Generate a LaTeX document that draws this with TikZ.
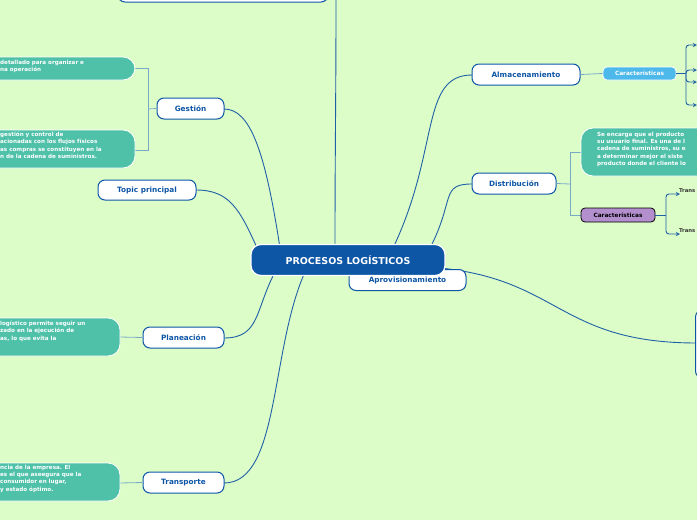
\documentclass[tikz,border=0pt]{standalone}
\usepackage{fontspec}
\setmainfont{DejaVu Sans}
\definecolor{lb}{RGB}{32,96,168}
\definecolor{dk}{RGB}{13,86,166}
\definecolor{bg}{RGB}{220,253,199}
\definecolor{thinc}{RGB}{120,170,200}
\definecolor{teal}{RGB}{79,193,169}
\definecolor{skyc}{RGB}{77,184,234}
\definecolor{purp}{RGB}{179,143,205}
\begin{document}
\begin{tikzpicture}[x=1pt,y=-1pt,
  conn/.style={draw=lb, line width=0.9pt},
  thin/.style={draw=thinc, line width=0.8pt},
  topic/.style={draw=dk, line width=1pt, fill=white, rounded corners=7pt, text=dk, font=\fontsize{7.3}{8}\selectfont\bfseries, inner sep=0pt},
  note/.style={fill=teal, draw=white, line width=0.8pt, rounded corners=12pt},
  ntext/.style={text=white, font=\fontsize{5.6}{7.2}\selectfont\bfseries, align=left, inner sep=0pt, anchor=north west},
  arr/.style={conn,->,>=stealth}]
\useasboundingbox (0,0) rectangle (697,520);
\clip (0,0) rectangle (697,520);
\fill[bg] (0,0) rectangle (697,520);
% top
\node[topic, minimum width=210pt, minimum height=22pt] (top) at (223,-9) {};
\draw[conn] (335,248) to[out=90,in=-90] (336,0);
% connectors from center
\draw[conn] (280,248) .. controls (265,150) and (250,109) .. (224,109);
\draw[conn] (258,250) .. controls (240,210) and (230,190) .. (196,190);
\draw[conn] (275,272) .. controls (255,310) and (260,338) .. (224,338);
\draw[conn] (305,272) .. controls (270,350) and (280,483) .. (224,483);
\draw[conn] (393,248) .. controls (440,150) and (420,75) .. (472,75);
\draw[conn] (430,248) .. controls (455,200) and (440,184) .. (472,184);
\draw[conn] (440,268) .. controls (560,280) and (560,343) .. (697,343);
% right bottom box
\node[topic, minimum width=40pt, minimum height=68pt, anchor=west] (rb) at (695,344) {};
% branches
\node[topic, minimum width=117pt, minimum height=21pt] (apro) at (407.5,280) {\raisebox{-1.5pt}{Aprovisionamiento}};
\node[draw=white, line width=1.2pt, fill=dk, rounded corners=10pt, minimum width=194pt, minimum height=31pt, text=white, font=\fontsize{9.5}{10}\selectfont\bfseries] (center) at (348,260) {PROCESOS LOGÍSTICOS};
\node[topic, minimum width=67pt, minimum height=21pt] (gest) at (190.5,108.5) {Gestión};
\node[topic, minimum width=98pt, minimum height=20pt] (tp) at (147,190) {Topic principal};
\node[topic, minimum width=81pt, minimum height=21pt] (plan) at (183.5,337.5) {Planeación};
\node[topic, minimum width=81pt, minimum height=21pt] (trans) at (183.5,482.5) {Transporte};
\node[topic, minimum width=108pt, minimum height=21pt] (alm) at (526,74.5) {Almacenamiento};
\node[topic, minimum width=84pt, minimum height=21pt] (dist) at (514,183.5) {Distribución};
% Gestión children
\draw[thin] (gest.west) -- (148,109);
\draw[thin] (135,68) -| (148,150) -- (135,150);
\draw[note] (-20,57) rectangle (135,80);
\node[ntext] at (0,60) {detallado para organizar e\\na operación};
\draw[note] (-20,130) rectangle (135,168);
\node[ntext] at (0,132) {gestión y control de\\acionadas con los flujos físicos\\as compras se constituyen en la\\n de la cadena de suministros.};
% Planeación child
\draw[thin] (120,337) -- (plan.west);
\draw[note] (-20,318) rectangle (120,356);
\node[ntext] at (0,321) {logístico permite seguir un\\zado en la ejecución de\\as, lo que evita la};
% Transporte child
\draw[thin] (120,483) -- (trans.west);
\draw[note] (-20,463) rectangle (120,501);
\node[ntext] at (0,465) {ncia de la empresa. El\\ es el que aseegura que la\\ consumidor en lugar,\\y estado óptimo.};
% Almacenamiento children
\node[fill=skyc, draw=white, line width=0.8pt, rounded corners=4pt, minimum width=73pt, minimum height=13pt, inner sep=0pt, text=white, font=\fontsize{5.8}{6}\selectfont\bfseries] (car1) at (639.5,73.5) {Características};
\draw[thin] (alm.east) -- (car1.west);
\draw[conn] (car1.east) -- (686,73.5);
\foreach \y in {45,70,82,105} \draw[arr, rounded corners=3pt] (686,73.5) |- (697,\y);
% Distribución children
\draw[thin] (dist.east) -- (570,184);
\draw[thin] (581,152) -| (570,215) -- (581,215);
\draw[note] (581,128) rectangle (720,176);
\node[ntext] at (597,132) {Se encarga que el producto\\su usuario final. Es una de l\\cadena de suministros, su e\\a determinar mejor el siste\\producto donde el cliente lo};
\node[fill=purp, draw=black, line width=0.8pt, rounded corners=4pt, minimum width=74pt, minimum height=14pt, inner sep=0pt, font=\fontsize{5.8}{6}\selectfont\bfseries] (car2) at (618,215) {Características};
\draw[conn] (car2.east) -- (666,215);
\draw[arr, rounded corners=3pt] (666,215) |- (680,194);
\draw[arr, rounded corners=3pt] (666,215) |- (680,234);
\node[anchor=south west, inner sep=1pt, font=\fontsize{5.3}{6}\selectfont\bfseries, text=black!80] (t1) at (678,194) {Trans};
\node[anchor=south west, inner sep=1pt, font=\fontsize{5.3}{6}\selectfont\bfseries, text=black!80] (t2) at (678,234) {Trans};
\end{tikzpicture}
\end{document}
